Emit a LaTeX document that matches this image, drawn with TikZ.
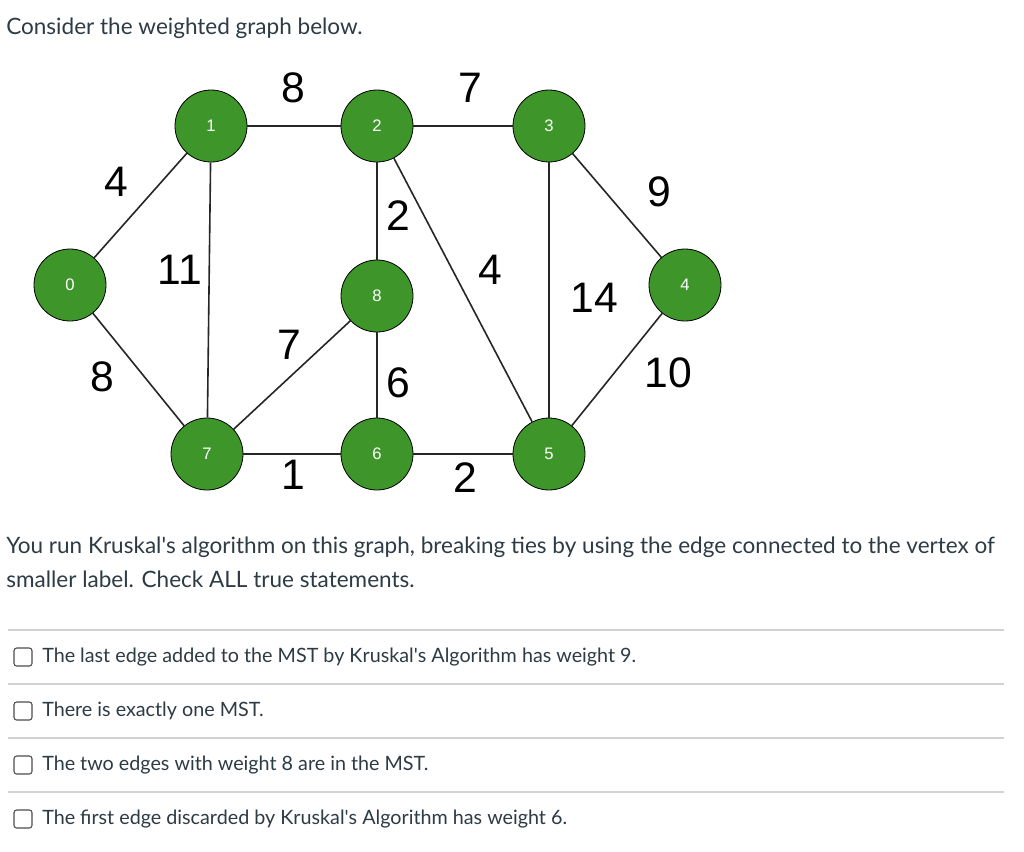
\documentclass[tikz,border=0pt]{standalone}
\usepackage{fontspec}
\setmainfont{Lato}
\newfontfamily\graphfont{Liberation Sans}
\definecolor{vgreen}{RGB}{62,150,42}
\definecolor{sepgray}{RGB}{210,210,210}
\definecolor{txt}{RGB}{45,59,69}
\begin{document}
\begin{tikzpicture}[x=0.75pt,y=-0.75pt,
  vert/.style={circle,draw=black,line width=0.6pt,fill=vgreen,minimum size=54pt,inner sep=0pt,text=white,font=\graphfont\fontsize{12.5}{13}\selectfont},
  wt/.style={font=\graphfont\fontsize{32}{34}\selectfont,inner sep=0pt},
  edge/.style={line width=1.2pt,black!85},
  body/.style={anchor=west,text=txt,font=\fontsize{16.9}{20}\selectfont,inner sep=0pt},
  opt/.style={anchor=west,text=txt,font=\fontsize{14.8}{18}\selectfont,inner sep=0pt},
  chk/.style={draw=black!70,rounded corners=2pt,minimum size=13.5pt,inner sep=0pt,line width=0.8pt},
  sep/.style={draw=sepgray,line width=0.8pt}]
\useasboundingbox (0,0) rectangle (1024,851);
\fill[white] (0,0) rectangle (1024,851);
\node[body] (t1) at (6,28) {Consider the weighted graph below.};
\node[vert] (n0) at (70,285) {0};
\node[vert] (n1) at (211,126) {1};
\node[vert] (n2) at (377,126) {2};
\node[vert] (n3) at (549,126) {3};
\node[vert] (n4) at (685,285) {4};
\node[vert] (n8) at (377,296) {8};
\node[vert] (n7) at (207,454) {7};
\node[vert] (n6) at (377,454) {6};
\node[vert] (n5) at (549,454) {5};
\draw[edge] (n0)--(n1); \draw[edge] (n0)--(n7);
\draw[edge] (n1)--(n2); \draw[edge] (n1)--(n7);
\draw[edge] (n2)--(n3); \draw[edge] (n2)--(n8); \draw[edge] (n2)--(n5);
\draw[edge] (n3)--(n4); \draw[edge] (n3)--(n5);
\draw[edge] (n4)--(n5);
\draw[edge] (n8)--(n7); \draw[edge] (n8)--(n6);
\draw[edge] (n7)--(n6); \draw[edge] (n6)--(n5);
\node[wt] (w1) at (293,88) {8};
\node[wt] (w2) at (470,88) {7};
\node[wt] (w3) at (116,182) {4};
\node[wt] (w4) at (180,270) {11};
\node[wt] (w5) at (398,216) {2};
\node[wt] (w6) at (398,383) {6};
\node[wt] (w7) at (102,377) {8};
\node[wt] (w8) at (289,345) {7};
\node[wt] (w9) at (490,270) {4};
\node[wt] (w10) at (594,298) {14};
\node[wt] (w11) at (659,192) {9};
\node[wt] (w12) at (668,373) {10};
\node[wt] (w13) at (293,475) {1};
\node[wt] (w14) at (465,478) {2};
\node[body] (t2) at (6,547) {You run Kruskal\textquotesingle s algorithm on this graph, breaking ties by using the edge connected to the vertex of};
\node[body] (t3) at (6,579) {smaller label. Check ALL true statements.};
\draw[sep] (8,630) -- (1004,630);
\draw[sep] (8,684) -- (1004,684);
\draw[sep] (8,738) -- (1004,738);
\draw[sep] (8,792) -- (1004,792);
\node[chk] (c1) at (23,657) {};
\node[chk] (c2) at (23,711) {};
\node[chk] (c3) at (23,765) {};
\node[chk] (c4) at (23,819) {};
\node[opt] (o1) at (42,657) {The last edge added to the MST by Kruskal\textquotesingle s Algorithm has weight 9.};
\node[opt] (o2) at (42,711) {There is exactly one MST.};
\node[opt] (o3) at (42,765) {The two edges with weight 8 are in the MST.};
\node[opt] (o4) at (42,819) {The first edge discarded by Kruskal\textquotesingle s Algorithm has weight 6.};
\end{tikzpicture}
\end{document}
